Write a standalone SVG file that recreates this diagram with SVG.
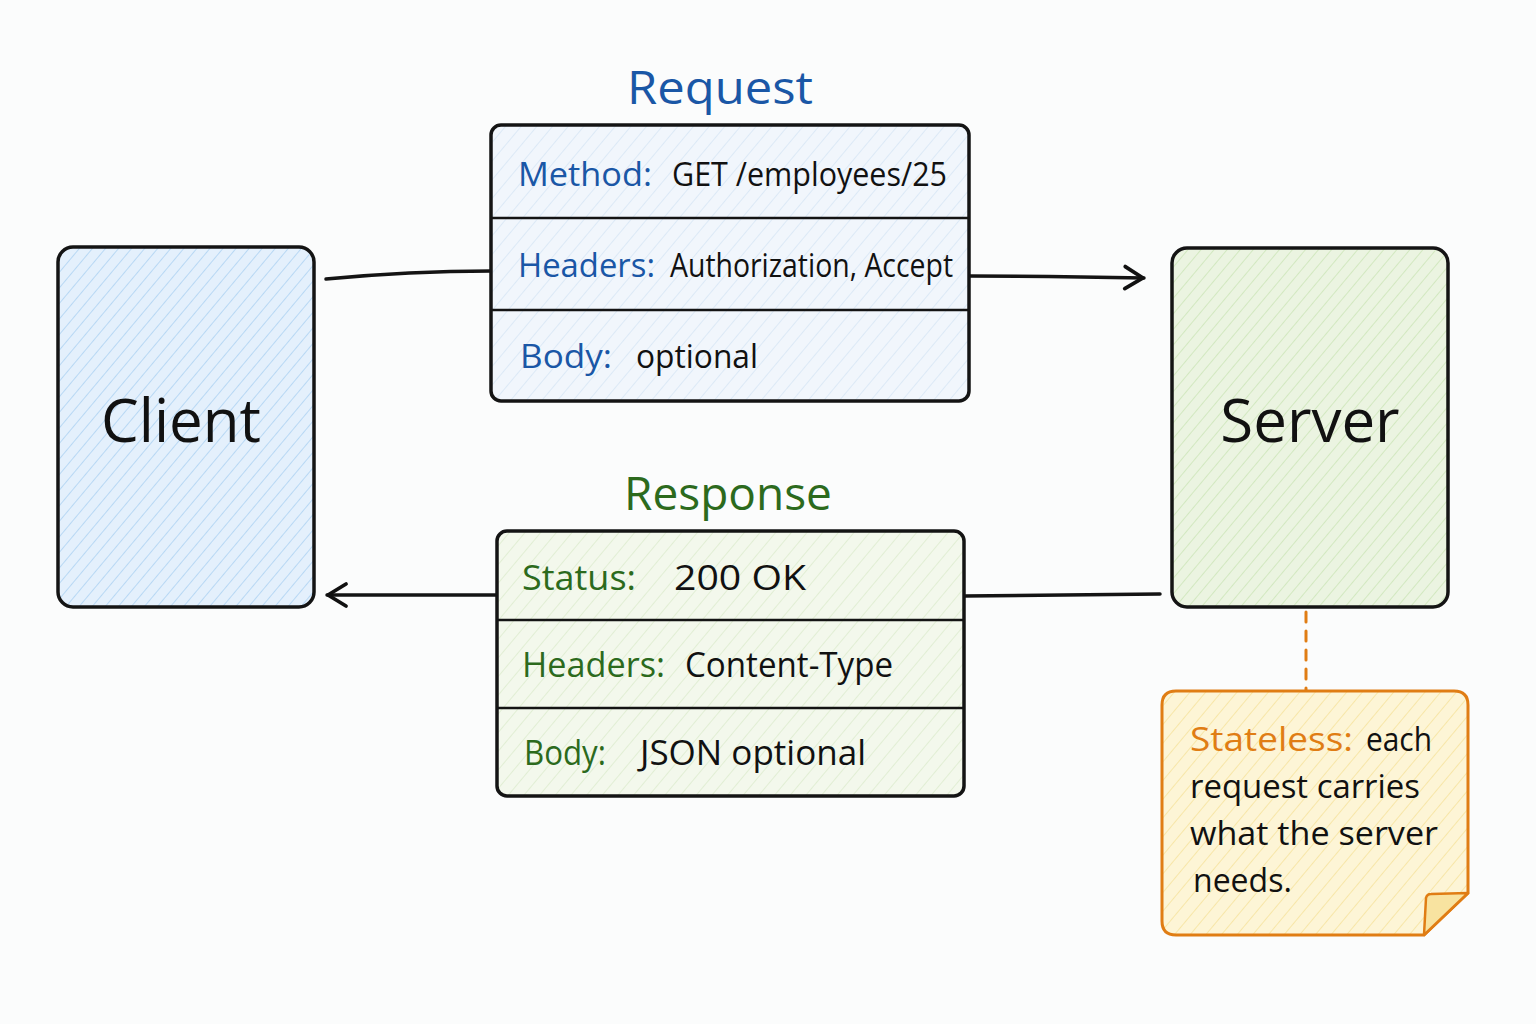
<svg xmlns="http://www.w3.org/2000/svg" width="1536" height="1024" viewBox="0 0 1536 1024">
<defs>
<pattern id="hBlue" patternUnits="userSpaceOnUse" width="10" height="10" patternTransform="rotate(40)"><rect width="10" height="10" fill="#e4f0fc"/><line x1="0" y1="0" x2="0" y2="10" stroke="#b8d8f4" stroke-width="2"/></pattern>
<pattern id="hBlueL" patternUnits="userSpaceOnUse" width="12" height="12" patternTransform="rotate(40)"><rect width="12" height="12" fill="#f1f6fc"/><line x1="0" y1="0" x2="0" y2="12" stroke="#dce9f6" stroke-width="2"/></pattern>
<pattern id="hGreen" patternUnits="userSpaceOnUse" width="10" height="10" patternTransform="rotate(40)"><rect width="10" height="10" fill="#ebf4e1"/><line x1="0" y1="0" x2="0" y2="10" stroke="#d2e8c0" stroke-width="2"/></pattern>
<pattern id="hGreenL" patternUnits="userSpaceOnUse" width="12" height="12" patternTransform="rotate(40)"><rect width="12" height="12" fill="#f3f8ec"/><line x1="0" y1="0" x2="0" y2="12" stroke="#e1eed4" stroke-width="2"/></pattern>
<pattern id="hYellow" patternUnits="userSpaceOnUse" width="12" height="12" patternTransform="rotate(40)"><rect width="12" height="12" fill="#fdf5d6"/><line x1="0" y1="0" x2="0" y2="12" stroke="#f7e6a8" stroke-width="2"/></pattern>
<marker id="arr" viewBox="0 0 24 28" refX="22" refY="14" markerWidth="24" markerHeight="28" markerUnits="userSpaceOnUse" orient="auto"><path d="M3,3 L21,14 L3,25" fill="none" stroke="#111" stroke-width="3.8" stroke-linecap="round" stroke-linejoin="round"/></marker>
</defs>
<style>
.box{stroke:#141414;stroke-width:3.5;}
.div{stroke:#141414;stroke-width:2.5;}
.t{font-family:"Open Sans","Liberation Sans",sans-serif;fill:#111;}
.big{font-size:60px;}
.title{font-size:46px;}
.row{font-size:32px;}
.rowb{font-size:34px;}
.blue{fill:#1a57a6;}
.green{fill:#2c6a1d;}
.orange{fill:#e07d14;}
.conn{fill:none;stroke:#141414;stroke-width:3.5;stroke-linecap:round;}
</style>
<rect width="1536" height="1024" fill="#fbfcfc"/>
<g id="connectors">
<path class="conn" d="M326,279 Q410,271 491,271"/>
<path class="conn" d="M969,276 Q1060,276 1144,278" marker-end="url(#arr)"/>
<path class="conn" d="M1160,594 Q1060,595 964,596"/>
<path class="conn" d="M497,595 Q410,595 327,595" marker-end="url(#arr)"/>
<path d="M1306,612 L1306,690" fill="none" stroke="#e07d14" stroke-width="3" stroke-dasharray="10,9" stroke-linecap="round"/>
</g>
<g id="client">
<rect class="box" x="58" y="247" width="256" height="360" rx="15" fill="url(#hBlue)"/>
<text class="t big" x="181" y="442" text-anchor="middle">Client</text>
</g>
<g id="server">
<rect class="box" x="1172" y="248" width="276" height="359" rx="15" fill="url(#hGreen)"/>
<text class="t big" x="1310" y="442" text-anchor="middle">Server</text>
</g>
<g id="request">
<text class="t title blue" x="627" y="104" textLength="186" lengthAdjust="spacingAndGlyphs">Request</text>
<rect class="box" x="491" y="125" width="478" height="276" rx="10" fill="url(#hBlueL)"/>
<line class="div" x1="491" y1="218" x2="969" y2="218"/>
<line class="div" x1="491" y1="310" x2="969" y2="310"/>
<text class="t row blue" x="518" y="186" textLength="134" lengthAdjust="spacingAndGlyphs">Method:</text>
<text class="t row" x="672" y="186" textLength="275" lengthAdjust="spacingAndGlyphs">GET /employees/25</text>
<text class="t row blue" x="518" y="277" textLength="137" lengthAdjust="spacingAndGlyphs">Headers:</text>
<text class="t row" x="670" y="277" textLength="283" lengthAdjust="spacingAndGlyphs">Authorization, Accept</text>
<text class="t row blue" x="520" y="368" textLength="92" lengthAdjust="spacingAndGlyphs">Body:</text>
<text class="t row" x="636" y="368" textLength="122" lengthAdjust="spacingAndGlyphs">optional</text>
</g>
<g id="response">
<text class="t title green" x="728" y="510" text-anchor="middle">Response</text>
<rect class="box" x="497" y="531" width="467" height="265" rx="10" fill="url(#hGreenL)"/>
<line class="div" x1="497" y1="620" x2="964" y2="620"/>
<line class="div" x1="497" y1="708" x2="964" y2="708"/>
<text class="t rowb green" x="522" y="590" textLength="114" lengthAdjust="spacingAndGlyphs">Status:</text>
<text class="t rowb" x="674" y="590" textLength="132" lengthAdjust="spacingAndGlyphs">200 OK</text>
<text class="t rowb green" x="522" y="677" textLength="143" lengthAdjust="spacingAndGlyphs">Headers:</text>
<text class="t rowb" x="685" y="677" textLength="208" lengthAdjust="spacingAndGlyphs">Content-Type</text>
<text class="t rowb green" x="524" y="765" textLength="82" lengthAdjust="spacingAndGlyphs">Body:</text>
<text class="t rowb" x="640" y="765" textLength="226" lengthAdjust="spacingAndGlyphs">JSON optional</text>
</g>
<g id="note">
<path d="M1176,691 L1454,691 Q1468,691 1468,705 L1468,893 L1424,935 L1176,935 Q1162,935 1162,921 L1162,705 Q1162,691 1176,691 Z" fill="url(#hYellow)" stroke="#e07d14" stroke-width="3"/>
<path d="M1424,935 L1426,898 Q1427,894 1431,894 L1468,893 Z" fill="#f8e3a0" stroke="#e07d14" stroke-width="2.5" stroke-linejoin="round"/>
<text class="t row orange" x="1190" y="751" textLength="163" lengthAdjust="spacingAndGlyphs">Stateless:</text>
<text class="t row" x="1366" y="751" textLength="66" lengthAdjust="spacingAndGlyphs">each</text>
<text class="t row" x="1190" y="798" textLength="230" lengthAdjust="spacingAndGlyphs">request carries</text>
<text class="t row" x="1190" y="845" textLength="248" lengthAdjust="spacingAndGlyphs">what the server</text>
<text class="t row" x="1193" y="892">needs.</text>
</g>
</svg>
